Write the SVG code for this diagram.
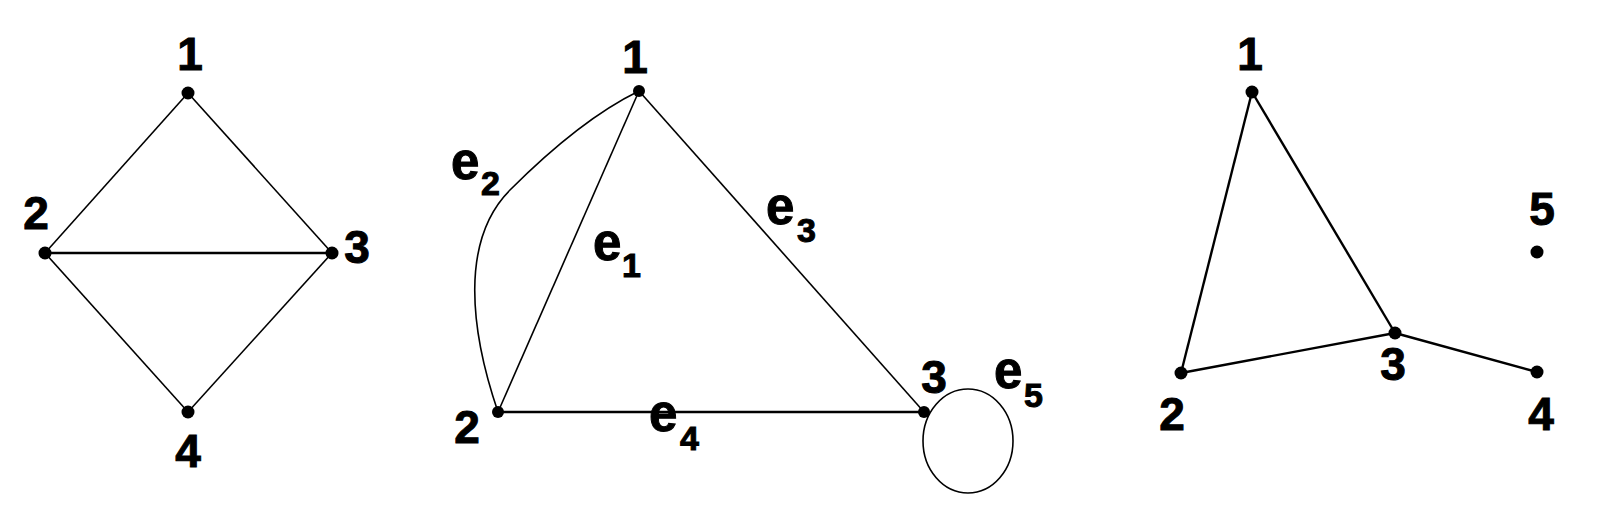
<svg xmlns="http://www.w3.org/2000/svg" width="1600" height="513" viewBox="0 0 1600 513">
<style>
.e{stroke:#000;fill:none;stroke-width:1.6}
.h{stroke:#000;fill:none;stroke-width:2.4}
.n{fill:#000}
text{font-family:"Liberation Sans",Arial,sans-serif;font-weight:bold;fill:#000;stroke:#000;stroke-width:1}
.lb{font-size:46px;text-anchor:middle}
.el{font-size:51px}
.sb{font-size:34px}
</style>
<rect width="1600" height="513" fill="#fff"/>
<g id="connectors">
  <line class="e" x1="188" y1="93" x2="45" y2="253"/>
  <line class="e" x1="188" y1="93" x2="332" y2="253"/>
  <line class="h" x1="45" y1="253" x2="332" y2="253"/>
  <line class="e" x1="45" y1="253" x2="188" y2="412"/>
  <line class="e" x1="332" y1="253" x2="188" y2="412"/>
  <line class="e" x1="639" y1="91" x2="498" y2="412"/>
  <path class="e" d="M498,412 C470,330 460,240 510,190 S600,110 639,91"/>
  <line class="e" x1="639" y1="91" x2="924" y2="412"/>
  <line class="h" x1="498" y1="412" x2="924" y2="412"/>
  <ellipse class="e" cx="968" cy="441" rx="45" ry="52"/>
  <line class="h" x1="1252" y1="92" x2="1181" y2="373"/>
  <line class="h" x1="1252" y1="92" x2="1395" y2="333"/>
  <line class="h" x1="1181" y1="373" x2="1395" y2="333"/>
  <line class="h" x1="1395" y1="333" x2="1537" y2="372"/>
</g>
<g id="edge-labels">
  <text class="el" x="451" y="179">e</text><text class="sb" x="481" y="195">2</text>
  <text class="el" x="593" y="260">e</text><text class="sb" x="622" y="277">1</text>
  <text class="el" x="766" y="224">e</text><text class="sb" x="797" y="242">3</text>
  <text class="el" x="649" y="431">e</text><text class="sb" x="680" y="450">4</text>
  <text class="el" x="994" y="388">e</text><text class="sb" x="1024" y="407">5</text>
</g>
<g id="g1-n1"><circle class="n" cx="188" cy="93" r="6.5"/><text class="lb" x="190" y="70">1</text></g>
<g id="g1-n2"><circle class="n" cx="45" cy="253" r="6.5"/><text class="lb" x="36" y="229">2</text></g>
<g id="g1-n3"><circle class="n" cx="332" cy="253" r="6.5"/><text class="lb" x="357" y="263">3</text></g>
<g id="g1-n4"><circle class="n" cx="188" cy="412" r="6.5"/><text class="lb" x="188" y="467">4</text></g>
<g id="g2-n1"><circle class="n" cx="639" cy="91" r="6"/><text class="lb" x="635" y="73">1</text></g>
<g id="g2-n2"><circle class="n" cx="498" cy="412" r="6"/><text class="lb" x="467" y="443">2</text></g>
<g id="g2-n3"><circle class="n" cx="924" cy="412" r="6"/><text class="lb" x="934" y="393">3</text></g>
<g id="g3-n1"><circle class="n" cx="1252" cy="92" r="6.5"/><text class="lb" x="1250" y="70">1</text></g>
<g id="g3-n2"><circle class="n" cx="1181" cy="373" r="6.5"/><text class="lb" x="1172" y="430">2</text></g>
<g id="g3-n3"><circle class="n" cx="1395" cy="333" r="6.5"/><text class="lb" x="1393" y="380">3</text></g>
<g id="g3-n4"><circle class="n" cx="1537" cy="372" r="6.5"/><text class="lb" x="1541" y="430">4</text></g>
<g id="g3-n5"><circle class="n" cx="1537" cy="252" r="6.5"/><text class="lb" x="1542" y="225">5</text></g>
</svg>
